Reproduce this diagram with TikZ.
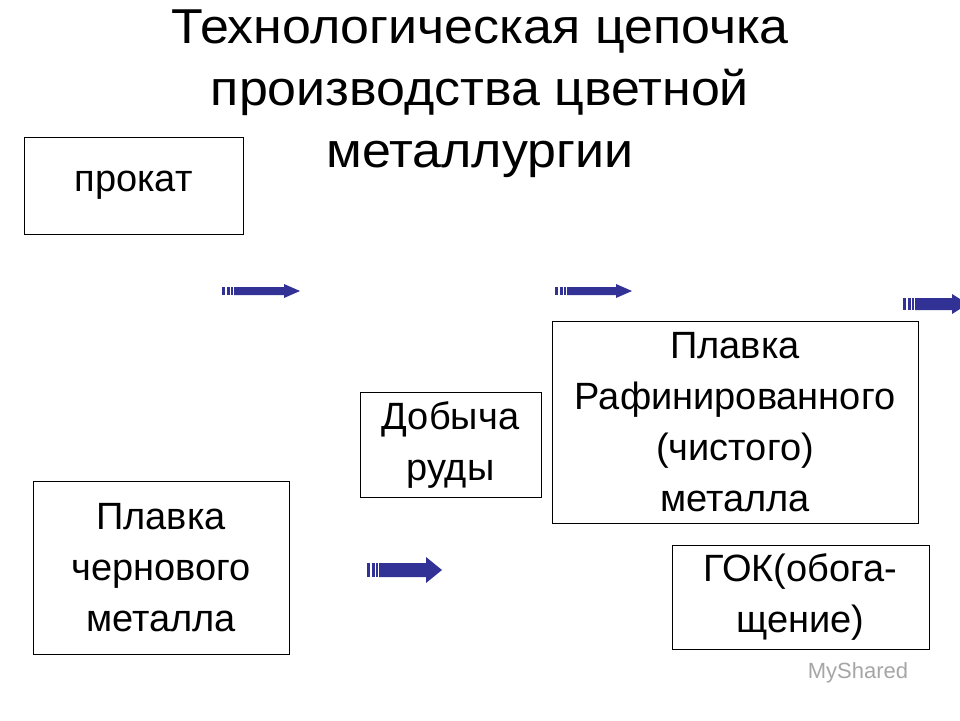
\documentclass[tikz,border=0pt]{standalone}
\usepackage{fontspec}
\setmainfont{Liberation Sans}
\definecolor{arrblue}{RGB}{50,50,150}
\newcommand{\striparrow}[5]{% x y headhalf bodyhalf endx
  \fill[arrblue] (#1,#2-#4) rectangle ++(3,2*#4);
  \fill[arrblue] (#1+4.5,#2-#4) rectangle ++(3,2*#4);
  \fill[arrblue] (#1+9,#2-#4) rectangle ++(2,2*#4);
  \fill[arrblue] (#1+12,#2-#4) -- (#5-16,#2-#4) -- (#5-16,#2-#3) -- (#5,#2) -- (#5-16,#2+#3) -- (#5-16,#2+#4) -- (#1+12,#2+#4) -- cycle;
}
\begin{document}
\begin{tikzpicture}[x=1pt,y=-1pt,
  box/.style={draw,thin,inner sep=0pt,align=center,font=\fontsize{38}{51}\selectfont}]
\useasboundingbox (0,0) rectangle (960,720);
\fill[white] (0,0) rectangle (960,720);
\node[align=center,font=\fontsize{49}{62}\selectfont,xscale=1.06] (title) at (480,94)
  {Технологическая цепочка\\производства цветной\\металлургии};
\node[box,minimum width=219,minimum height=97] (prokat) at (133.5,185.5) {прокат};
\node[box,minimum width=256,minimum height=173] (chern) at (161,567.5) {Плавка\\чернового\\металла};
\node[box,minimum width=181,minimum height=105] (dob) at (450.5,444.5) {Добыча\\руды};
\node[box,minimum width=366,minimum height=202] (raf) at (735,422) {Плавка\\Рафинированного\\(чистого)\\металла};
\node[box,minimum width=257,minimum height=104] (gok) at (800.5,597) {ГОК(обога-\\щение)};
\striparrow{222}{291}{7}{4}{300}
\striparrow{555}{291}{7}{4}{632}
\striparrow{903}{304}{10}{6}{968}
\striparrow{367}{570}{13}{7}{442}
\node[text=black!35,font=\fontsize{22}{24}\selectfont] (ws) at (858,673) {MyShared};
\end{tikzpicture}
\end{document}
